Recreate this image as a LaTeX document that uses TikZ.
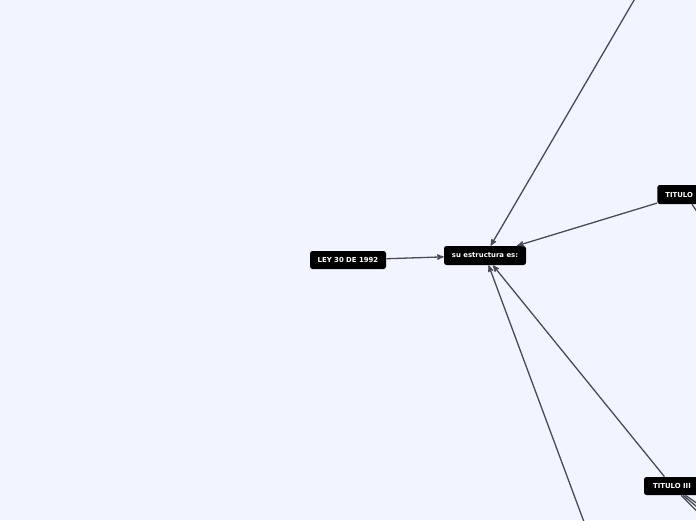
\documentclass[tikz,border=0pt]{standalone}
\usepackage{fontspec}
\setsansfont{DejaVu Sans}
\usetikzlibrary{arrows,positioning,calc}
\definecolor{mapbg}{HTML}{F2F5FF}
\definecolor{mapline}{HTML}{474B55}

\begin{document}
\begin{tikzpicture}[x=1pt, y=-1pt, >=stealth', semithick]
        \tikzstyle{every topic}=[fill=black, text=white, rounded corners=2.5pt, inner sep=0pt,
            font=\sffamily\bfseries\fontsize{6.9}{7}\selectfont]
        \tikzstyle{link}=[draw=mapline, line width=1.3pt]
        \fill[mapbg] (0,0) rectangle (696,520);
        \useasboundingbox (0,0) rectangle (696,520);
        \clip (0,0) rectangle (696,520);
        \node[every topic, minimum width=76pt, minimum height=18pt]    (Ley)   at (348,260)    {LEY 30 DE 1992};
        \node[every topic, minimum width=82pt, minimum height=19pt]    (Estr)  at (485,255.5)  {su estructura es:};
        \node[every topic, anchor=west, text width=40pt, align=left, inner xsep=8pt, minimum height=19pt]
                                                                       (Tit)   at (657,194.5)  {TITULO};
        \node[every topic, minimum width=56pt, minimum height=18pt]    (TitIII) at (672,486)   {TITULO III};
        \coordinate (Top)    at (640,-10);
        \coordinate (Bottom) at (587,530);
        \coordinate (TitDown) at (730,260);
        \coordinate (III_a) at (760,575);
        \coordinate (III_b) at (770,568);
        \coordinate (III_c) at (780,561);
        \path[link]
        (Ley) edge[->] (Estr)
        (Top) edge[->] (Estr)
        (Tit) edge[->] (Estr)
            edge (TitDown)
        (TitIII) edge[->] (Estr)
            edge (III_a)
            edge (III_b)
            edge (III_c)
        (Bottom) edge[->] (Estr);
\end{tikzpicture}
\end{document}
